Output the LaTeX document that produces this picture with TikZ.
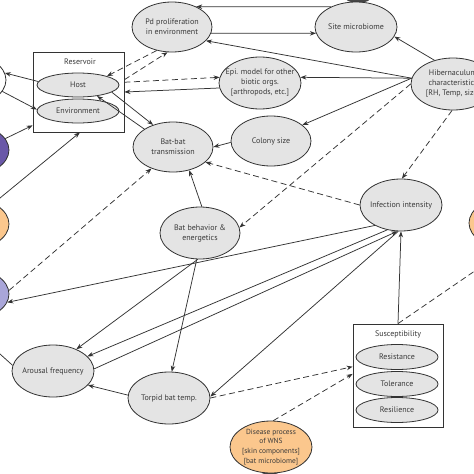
\documentclass[tikz,border=0pt]{standalone}
\usepackage{fontspec}
\setmainfont{PT Sans}
\usetikzlibrary{shapes.geometric,arrows.meta}
\definecolor{edge}{HTML}{333333}
\definecolor{bubfill}{HTML}{E4E4E4}
\definecolor{txt}{HTML}{3A3A3A}
\definecolor{darkpurple}{HTML}{6A58A8}
\definecolor{lavender}{HTML}{A9A6D9}
\definecolor{peach}{HTML}{FBC78D}
\tikzset{
  bub/.style={ellipse, draw=edge, fill=bubfill, line width=0.8pt, inner xsep=-18pt, inner ysep=-10pt,
    text=txt, align=center, font=\fontsize{8}{10}\selectfont, minimum width=82pt, minimum height=52pt},
  small/.style={minimum height=24pt},
  boxnode/.style={draw=edge, line width=0.8pt, inner sep=0pt, fill=white},
  lbl/.style={text=txt, font=\fontsize{8}{10}\selectfont, inner sep=0pt},
  arr/.style={-{Stealth[length=6pt,width=4.5pt]}, line width=0.75pt, draw=edge},
  dsh/.style={arr, dash pattern=on 6pt off 3.5pt},
  plain/.style={line width=0.75pt, draw=edge},
  plaindsh/.style={plain, dash pattern=on 6pt off 3.5pt},
}
\begin{document}
\begin{tikzpicture}[x=1pt,y=-1pt]
\useasboundingbox (0,0) rectangle (474,474);
\clip (0,0) rectangle (474,474);
\fill[white] (0,0) rectangle (474,474);

% partial dark shapes at the edges
\fill[gray!55!black] (358,-4) ellipse [x radius=14pt, y radius=7pt];
\fill[gray!55!black] (270,479) ellipse [x radius=12pt, y radius=7pt];

% boxes
\node[boxnode, minimum width=91pt, minimum height=80pt] (res) at (78.5,92) {};
\node[lbl] (reslbl) at (80,62) {Reservoir};
\node[boxnode, minimum width=90pt, minimum height=103pt] (susc) at (398,375.5) {};
\node[lbl] (susclbl) at (398,334) {Susceptibility};

% nodes
\node[bub, minimum width=80pt, minimum height=50pt] (pd) at (172,27) {Pd proliferation\\in environment};
\node[bub, minimum height=50pt] (site) at (356,27) {Site microbiome};
\node[bub] (epi) at (260,83) {Epi. model for other\\biotic orgs.\\{[}arthropods, etc.{]}};
\node[bub, minimum width=84pt] (hib) at (453,84) {Hibernaculum\\characteristics\\{[}RH, Temp, size{]}};
\node[bub, minimum width=80pt, minimum height=50pt] (colony) at (271,141) {Colony size};
\node[bub, minimum width=80pt, minimum height=50pt] (batbat) at (173,147) {Bat-bat\\transmission};
\node[bub] (inf) at (401,205) {Infection intensity};
\node[bub, minimum width=80pt] (behav) at (200,233) {Bat behavior \&\\energetics};
\node[bub] (arousal) at (53,371) {Arousal frequency};
\node[bub] (torpid) at (169,398) {Torpid bat temp.};
\node[bub, fill=peach, font=\fontsize{7.4}{9.7}\selectfont] (disease) at (271,447) {Disease process\\of WNS\\{[}skin components{]}\\{[}bat microbiome{]}};
\node[bub, small] (host) at (78,85) {Host};
\node[bub, small] (env) at (78,111) {Environment};
\node[bub, minimum height=25pt] (resist) at (397,357) {Resistance};
\node[bub, minimum height=25pt] (toler) at (397,384) {Tolerance};
\node[bub, minimum height=25pt] (resil) at (397,410) {Resilience};

% partly visible nodes at the edges
\node[bub, fill=white] (leftw) at (-35,80) {};
\node[bub, fill=darkpurple] (purple) at (-32,150) {};
\node[bub, fill=peach] (orange) at (-32,224) {};
\node[bub, fill=lavender] (lav) at (-32,294) {};
\node[bub, fill=peach] (righto) at (510,223) {};
\coordinate (offr) at (520,240);
\coordinate (offl) at (-20,336);

% connectors
\draw[arr] (site.141) -- (pd.40);
\draw[arr] (pd.-9) -- (site.-171);
\draw[arr] (hib.172) -- (pd.-22);
\draw[arr] (hib.128) -- (site.-14);
\draw[arr] (hib.172) -- (epi.8);
\draw[arr] (hib.172) -- (colony.27);
\draw[dsh] (hib.180) -- (behav.8);
\draw[dsh] (hib.-92) -- (inf.88);
\draw[dsh] (pd.-123) -- (host.17);
\draw[dsh] (res.15) -- (pd.-100);
\draw[dsh] (res.12) -- (epi.172);
\draw[arr] (epi.-173) -- (res.0);
\draw[arr] (host.-12) -- (batbat.132);
\draw[arr] (batbat.148) -- (host.-30);
\draw[arr] (host.175) -- (leftw.10);
\draw[arr] (leftw.-17) -- (env.178);
\draw[arr] (purple.17) -- (res.-144);
\draw[arr] (orange.39) -- (res.-88);
\draw[arr] (behav.86) -- (batbat.-55);
\draw[dsh] (inf.180) -- (batbat.-25);
\draw[dsh] (lav.5) -- (batbat.-135);
\draw[arr] (colony.182) -- (batbat.0);
\draw[arr] (inf.-142) -- (lav.-12);
\draw[arr] (behav.-95) -- (arousal.43);
\draw[arr] (behav.-97) -- (torpid.84);
\draw[arr] (inf.-119) -- (arousal.23);
\draw[arr] (arousal.3) -- (inf.-98);
\draw[arr] (inf.-96) -- (torpid.2);
\draw[arr] (susc.north) -- (inf.-90);
\draw[arr] (torpid.176) -- (arousal.-22);
\draw[dsh] (torpid.0) -- (susc.169);
\draw[dsh] (disease.85) -- (susc.178);
\draw[plaindsh] (susc.north) -- (offr);
\draw[plain] (offl) -- (arousal.172);
\end{tikzpicture}
\end{document}
